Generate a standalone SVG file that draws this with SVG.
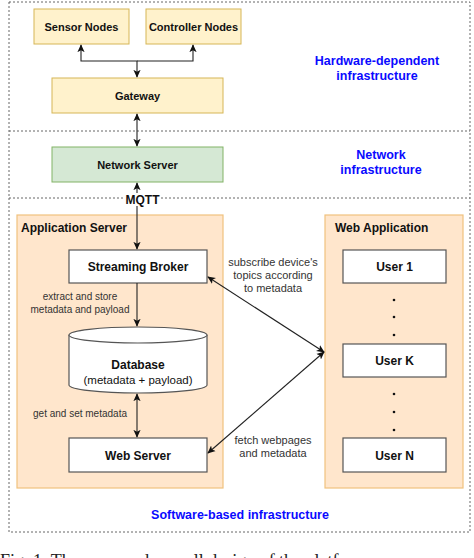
<svg xmlns="http://www.w3.org/2000/svg" width="474" height="558" viewBox="0 0 474 558">
<defs>
<marker id="ah" viewBox="0 0 10 10" refX="9" refY="5" markerWidth="8" markerHeight="8" markerUnits="userSpaceOnUse" orient="auto-start-reverse">
<path d="M0,0.5 L10,5 L0,9.5 L2.5,5 Z" fill="#111"/>
</marker>
<style>
text{font-family:"Liberation Sans",Arial,Helvetica,sans-serif;fill:#111}
.b{font-weight:bold;font-size:12px}
.bs{font-weight:bold;font-size:11px}
.lbl{font-size:10px;fill:#333}
.lbr{font-size:11px;fill:#333}
.blue{font-weight:bold;font-size:12.5px;fill:#0a0aff}
.zone{fill:none;stroke:#666;stroke-width:1;stroke-dasharray:2 2}
.yel{fill:#fff2cc;stroke:#d6b656;stroke-width:1}
.grn{fill:#d5e8d4;stroke:#82b366;stroke-width:1}
.cont{fill:#ffe6cc;stroke:#f0c27e;stroke-width:1.2}
.wbox{fill:#fff;stroke:#555;stroke-width:1.2}
.con{fill:none;stroke:#222;stroke-width:1.1}
.cap{font-family:"Liberation Serif","Times New Roman",serif;font-size:18px;fill:#222}
</style>
</defs>

<g id="zones">
<rect class="zone" x="9" y="2" width="461" height="530"/>
<line class="zone" x1="9" y1="131" x2="470" y2="131"/>
<line class="zone" x1="9" y1="198" x2="470" y2="198"/>
<text class="blue" x="377" y="65" text-anchor="middle">Hardware-dependent</text>
<text class="blue" x="377" y="80" text-anchor="middle">infrastructure</text>
<text class="blue" x="381" y="159" text-anchor="middle">Network</text>
<text class="blue" x="381" y="174" text-anchor="middle">infrastructure</text>
<text class="blue" x="240" y="519" text-anchor="middle">Software-based infrastructure</text>
</g>

<g id="app-server">
<rect class="cont" x="17" y="215" width="206" height="273"/>
<text class="b" x="21" y="232">Application Server</text>
</g>
<g id="web-app">
<rect class="cont" x="325" y="215" width="138" height="273"/>
<text class="b" x="335" y="232">Web Application</text>
</g>

<g id="sensor-nodes">
<rect class="yel" x="34" y="9" width="95" height="35"/>
<text class="bs" x="81.5" y="31" text-anchor="middle">Sensor Nodes</text>
</g>
<g id="controller-nodes">
<rect class="yel" x="146" y="9" width="95" height="35"/>
<text class="bs" x="193.5" y="31" text-anchor="middle">Controller Nodes</text>
</g>
<g id="gateway">
<rect class="yel" x="52" y="78" width="171" height="35"/>
<text class="bs" x="137.5" y="100" text-anchor="middle">Gateway</text>
</g>
<g id="network-server">
<rect class="grn" x="52" y="147" width="171" height="35"/>
<text class="bs" x="137.5" y="169" text-anchor="middle">Network Server</text>
</g>
<g id="streaming-broker">
<rect class="wbox" x="69" y="250" width="138" height="33"/>
<text class="b" x="138" y="271" text-anchor="middle">Streaming Broker</text>
</g>
<g id="database">
<path class="wbox" d="M69,335 A69,8 0 0 1 207,335 L207,385 A69,8 0 0 1 69,385 Z"/>
<path class="wbox" d="M69,335 A69,8 0 0 0 207,335"/>
<text class="b" x="138" y="369" text-anchor="middle">Database</text>
<text x="138" y="384" text-anchor="middle" style="font-size:11.5px">(metadata + payload)</text>
</g>
<g id="web-server">
<rect class="wbox" x="69" y="438" width="138" height="34"/>
<text class="b" x="138" y="459.5" text-anchor="middle">Web Server</text>
</g>
<g id="user-1">
<rect class="wbox" x="343" y="250" width="103" height="33"/>
<text class="b" x="394.5" y="271" text-anchor="middle">User 1</text>
</g>
<g id="user-k">
<rect class="wbox" x="343" y="344" width="103" height="33"/>
<text class="b" x="394.5" y="365" text-anchor="middle">User K</text>
</g>
<g id="user-n">
<rect class="wbox" x="343" y="438" width="103" height="34"/>
<text class="b" x="394.5" y="459.5" text-anchor="middle">User N</text>
</g>
<g id="dots" fill="#111">
<circle cx="394" cy="300" r="1.3"/>
<circle cx="394" cy="317" r="1.3"/>
<circle cx="394" cy="335" r="1.3"/>
<circle cx="394" cy="394" r="1.3"/>
<circle cx="394" cy="412" r="1.3"/>
<circle cx="394" cy="430" r="1.3"/>
</g>

<g id="connectors">
<path class="con" d="M137,77 L137,61 L81,61 L81,45" marker-start="url(#ah)" marker-end="url(#ah)"/>
<path class="con" d="M137,61 L193,61 L193,45" marker-end="url(#ah)"/>
<path class="con" d="M137,114 L137,146" marker-start="url(#ah)" marker-end="url(#ah)"/>
<path class="con" d="M137,183 L137,249" marker-start="url(#ah)" marker-end="url(#ah)"/>
<path class="con" d="M137,283 L137,326" marker-end="url(#ah)"/>
<path class="con" d="M137,394 L137,437" marker-start="url(#ah)" marker-end="url(#ah)"/>
<path class="con" d="M208,277 L324,352" marker-start="url(#ah)" marker-end="url(#ah)"/>
<path class="con" d="M208,453 L324,352" marker-start="url(#ah)" marker-end="url(#ah)"/>
<rect x="124" y="193" width="37" height="13" fill="#fff"/>
<text class="b" x="142.5" y="204" text-anchor="middle">MQTT</text>
<text class="lbl" x="80" y="300" text-anchor="middle">extract and store</text>
<text class="lbl" x="80" y="313" text-anchor="middle">metadata and payload</text>
<text class="lbl" x="80" y="417" text-anchor="middle">get and set metadata</text>
<text class="lbr" x="273" y="266" text-anchor="middle">subscribe device's</text>
<text class="lbr" x="273" y="279" text-anchor="middle">topics according</text>
<text class="lbr" x="273" y="292" text-anchor="middle">to metadata</text>
<text class="lbr" x="273" y="444" text-anchor="middle">fetch webpages</text>
<text class="lbr" x="273" y="457" text-anchor="middle">and metadata</text>
</g>

<text class="cap" x="0" y="567">Fig. 1.  The proposed overall design of the platform</text>
</svg>
